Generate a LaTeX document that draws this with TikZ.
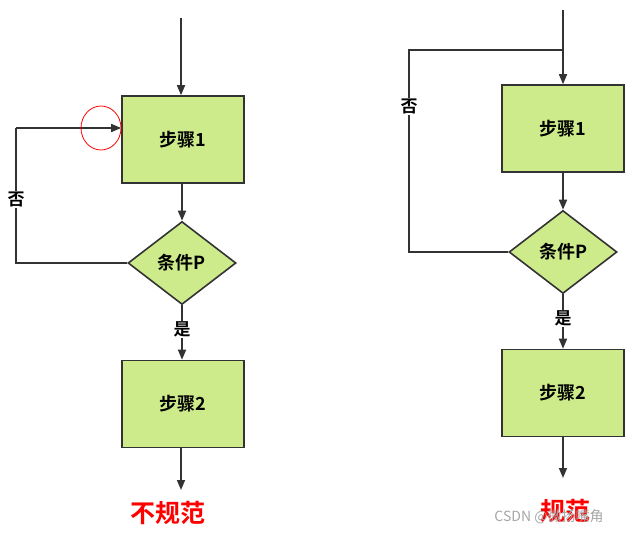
\documentclass[tikz,border=0pt]{standalone}
\usepackage{fontspec}
\newfontfamily\cjk{Noto Sans CJK SC}
\newfontfamily\cjkb{Noto Sans CJK SC Bold}
\usetikzlibrary{shapes.geometric,arrows.meta}
\definecolor{boxfill}{HTML}{CDEB8B}
\definecolor{edge}{HTML}{333333}
\begin{document}
\begin{tikzpicture}[x=1pt,y=-1pt,
  box/.style={draw=edge,line width=1.6pt,fill=boxfill,minimum width=122pt,minimum height=87pt,font=\cjkb\fontsize{18}{18}\selectfont},
  dia/.style={draw=edge,line width=1.6pt,fill=boxfill,diamond,aspect=1.3,minimum width=108pt,minimum height=83pt,inner sep=0pt,font=\cjkb\fontsize{18}{18}\selectfont},
  ln/.style={draw=edge,line width=1.6pt},
  arr/.style={ln,-{Triangle[length=10pt,width=8pt]}},
  lbl/.style={fill=white,inner sep=1pt,font=\cjkb\fontsize{17}{17}\selectfont},
  ttl/.style={text=red,font=\cjkb\fontsize{25}{25}\selectfont}]
\useasboundingbox (0,0) rectangle (634,535);
% left
\coordinate (lt) at (181,18);
\node[box] (a1) at (183,139.5) {步骤1};
\node[dia] (ad) at (182,263) {条件P};
\node[box] (a2) at (183,404) {步骤2};
\coordinate (le) at (181,490);
\coordinate (lc1) at (16,263);
\coordinate (lc2) at (16,128);
\draw[arr] (lt) -- (a1.north -| lt);
\draw[arr] (a1.south -| ad) -- (ad.north);
\draw[arr] (ad.south) -- node[lbl,pos=0.45]{是} (ad.south |- a2.north);
\draw[arr] (a2.south -| le) -- (le);
\draw[ln] (ad.west) -- (lc1) -- node[lbl,pos=0.47]{否} (lc2);
\draw[arr] (lc2) -- (lc2 -| a1.west);
\draw[red,line width=0.8pt] (101,128) ellipse (20pt and 22pt);
\node[ttl] (t1) at (168,513) {不规范};
% right
\coordinate (rt) at (563,10);
\coordinate (rj) at (563,50);
\node[box] (b1) at (563,128.5) {步骤1};
\node[dia] (bd) at (563,252) {条件P};
\node[box] (b2) at (563,393) {步骤2};
\coordinate (re) at (563,478);
\coordinate (rc1) at (409,252);
\coordinate (rc2) at (409,50);
\draw[arr] (rt) -- (b1.north);
\draw[arr] (b1.south) -- (bd.north);
\draw[arr] (bd.south) -- node[lbl,pos=0.45]{是} (b2.north);
\draw[arr] (b2.south) -- (re);
\draw[ln] (bd.west) -- (rc1) -- node[lbl,pos=0.72]{否} (rc2) -- (rj);
\node[ttl] (t2) at (565,511) {规范};
\node[text=gray!70,font=\cjk\fontsize{14}{14}\selectfont] (wm) at (549,517) {CSDN @微扬嘴角};
\end{tikzpicture}
\end{document}
